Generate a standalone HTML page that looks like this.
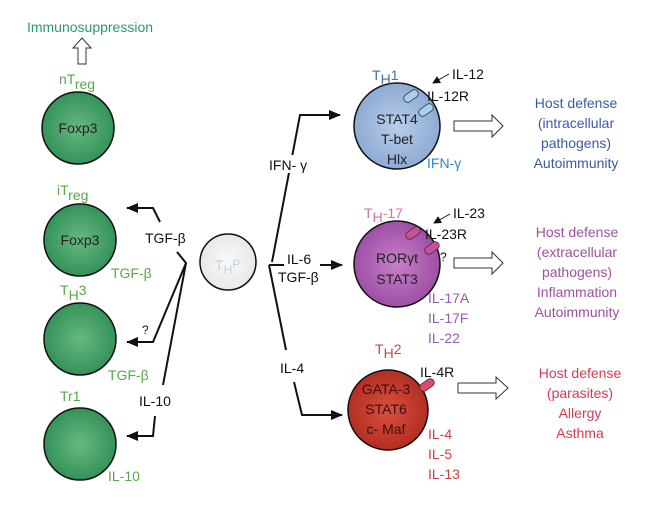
<!DOCTYPE html>
<html><head><meta charset="utf-8"><style>
html,body{margin:0;padding:0;background:#fff;}
svg{display:block;font-family:"Liberation Sans",sans-serif;}
</style></head><body>
<svg width="650" height="507" viewBox="0 0 650 507" xmlns="http://www.w3.org/2000/svg">
<defs>
<radialGradient id="g" cx="50%" cy="50%" r="55%"><stop offset="0" stop-color="#66b880"/><stop offset="1" stop-color="#2f8f55"/></radialGradient>
<radialGradient id="b" cx="50%" cy="50%" r="55%"><stop offset="0" stop-color="#b8cdea"/><stop offset="1" stop-color="#8aa6d2"/></radialGradient>
<radialGradient id="p" cx="50%" cy="50%" r="55%"><stop offset="0" stop-color="#c680c8"/><stop offset="1" stop-color="#9a4aa2"/></radialGradient>
<radialGradient id="r" cx="50%" cy="50%" r="55%"><stop offset="0" stop-color="#d8503e"/><stop offset="1" stop-color="#b02a20"/></radialGradient>
<radialGradient id="w" cx="50%" cy="50%" r="55%"><stop offset="0" stop-color="#fafafa"/><stop offset="1" stop-color="#e6e6e6"/></radialGradient>
<marker id="ah" markerWidth="8" markerHeight="8" refX="7" refY="4" orient="auto" markerUnits="userSpaceOnUse"><path d="M0,0 L8,4 L0,8 Z" fill="#111"/></marker>
<marker id="ah2" markerWidth="12" markerHeight="10" refX="11" refY="5" orient="auto" markerUnits="userSpaceOnUse"><path d="M0,0 L12,5 L0,10 Z" fill="#111"/></marker>
</defs>
<g font-size="14">
<text x="90" y="32" text-anchor="middle" fill="#2a9a70">Immunosuppression</text>
<path d="M78,64 L78,48 L73,48 L82,38 L91,48 L86,48 L86,64 Z" fill="#fff" stroke="#333" stroke-width="1"/>
<circle cx="78" cy="128" r="36" fill="url(#g)" stroke="#111" stroke-width="1.5"/>
<circle cx="80" cy="240" r="36" fill="url(#g)" stroke="#111" stroke-width="1.5"/>
<circle cx="80" cy="339" r="36" fill="url(#g)" stroke="#111" stroke-width="1.5"/>
<circle cx="80" cy="444" r="36" fill="url(#g)" stroke="#111" stroke-width="1.5"/>
<text x="78" y="133" text-anchor="middle" fill="#222">Foxp3</text>
<text x="80" y="245" text-anchor="middle" fill="#222">Foxp3</text>
<g fill="#5aa84a">
<text x="59" y="84">nT<tspan dy="5">reg</tspan></text>
<text x="57" y="195">iT<tspan dy="5">reg</tspan></text>
<text x="111" y="278">TGF-β</text>
<text x="60" y="295">T<tspan dy="5">H</tspan><tspan dy="-5">3</tspan></text>
<text x="108" y="380">TGF-β</text>
<text x="60" y="401">Tr1</text>
<text x="108" y="481">IL-10</text>
</g>
<g fill="none" stroke="#111" stroke-width="2">
<path d="M160,222 L153,208 L127,208" marker-end="url(#ah2)"/>
<path d="M177,252 L186,263 L153,342 L127,342" marker-end="url(#ah2)"/>
<path d="M186,263 L163,385"/>
<path d="M155,416 L153,436 L127,436" marker-end="url(#ah2)"/>
</g>
<text x="145" y="243" fill="#111">TGF-β</text>
<text x="142" y="334" fill="#111" font-size="12">?</text>
<text x="139" y="406" fill="#111">IL-10</text>
<circle cx="228" cy="262" r="28" fill="url(#w)" stroke="#111" stroke-width="1.5"/>
<text x="215" y="270" fill="#bcd6e6" font-size="14">T<tspan dy="4" font-size="12">H</tspan><tspan dy="-6" font-size="12">P</tspan></text>
<g fill="none" stroke="#111" stroke-width="2">
<path d="M272,262 L300,115 L340,115" marker-end="url(#ah2)"/>
<path d="M269,265 L284,265"/>
<path d="M320,265 L342,265" marker-end="url(#ah2)"/>
<path d="M269,265 L286,350"/>
<path d="M294,382 L302,415 L342,415" marker-end="url(#ah2)"/>
</g>
<rect x="265" y="155" width="45" height="18" fill="#fff"/>
<text x="269" y="170" fill="#111">IFN- γ</text>
<text x="287" y="264" fill="#111">IL-6</text>
<text x="278" y="282" fill="#111">TGF-β</text>
<text x="280" y="373" fill="#111">IL-4</text>
<circle cx="397" cy="126" r="43" fill="url(#b)" stroke="#111" stroke-width="1.5"/>
<rect x="403" y="92" width="16" height="8" rx="4" fill="#a8d0ee" stroke="#333" stroke-width="0.8" transform="rotate(-35 411 96)"/>
<rect x="418" y="106" width="16" height="8" rx="4" fill="#a8d0ee" stroke="#333" stroke-width="0.8" transform="rotate(-35 426 110)"/>
<path d="M449,74 L433,83" stroke="#111" stroke-width="1" marker-end="url(#ah)"/>
<text x="372" y="80" fill="#4a6aab">T<tspan dy="4">H</tspan><tspan dy="-4">1</tspan></text>
<text x="452" y="79" fill="#111">IL-12</text>
<text x="427" y="101" fill="#111">IL-12R</text>
<g fill="#222" text-anchor="middle"><text x="397" y="124">STAT4</text><text x="397" y="144">T-bet</text><text x="397" y="164">Hlx</text></g>
<text x="427" y="168" fill="#2a8ac8">IFN-γ</text>
<path d="M454,121 L492,121 L492,115 L503,126 L492,137 L492,131 L454,131 Z" fill="#fff" stroke="#333" stroke-width="1"/>
<g fill="#3a5aa8" text-anchor="middle"><text x="576" y="108">Host defense</text><text x="576" y="128">(intracellular</text><text x="576" y="148">pathogens)</text><text x="576" y="168">Autoimmunity</text></g>
<circle cx="397" cy="264" r="43" fill="url(#p)" stroke="#111" stroke-width="1.5"/>
<rect x="405" y="229" width="16" height="8" rx="4" fill="#c8509a" stroke="#333" stroke-width="0.8" transform="rotate(-35 413 233)"/>
<rect x="424" y="244" width="16" height="8" rx="4" fill="#c8509a" stroke="#333" stroke-width="0.8" transform="rotate(-35 432 248)"/>
<path d="M450,214 L434,223" stroke="#111" stroke-width="1" marker-end="url(#ah)"/>
<text x="364" y="218" fill="#d070a8">T<tspan dy="4">H</tspan><tspan dy="-4">-17</tspan></text>
<text x="453" y="218" fill="#111">IL-23</text>
<text x="425" y="239" fill="#111">IL-23R</text>
<text x="440" y="261" fill="#111" font-size="12">?</text>
<g fill="#222" text-anchor="middle"><text x="397" y="263">RORγt</text><text x="397" y="284">STAT3</text></g>
<g fill="#9a5ab0"><text x="428" y="303">IL-17A</text><text x="428" y="323">IL-17F</text><text x="428" y="343">IL-22</text></g>
<path d="M454,258 L492,258 L492,252 L503,263 L492,274 L492,268 L454,268 Z" fill="#fff" stroke="#333" stroke-width="1"/>
<g fill="#a050a0" text-anchor="middle"><text x="577" y="237">Host defense</text><text x="577" y="257">(extracellular</text><text x="577" y="277">pathogens)</text><text x="577" y="297">Inflammation</text><text x="577" y="317">Autoimmunity</text></g>
<circle cx="388" cy="410" r="40" fill="url(#r)" stroke="#111" stroke-width="1.5"/>
<rect x="419" y="381" width="16" height="8" rx="4" fill="#e04a6a" stroke="#333" stroke-width="0.8" transform="rotate(-35 427 385)"/>
<text x="375" y="354" fill="#d04040">T<tspan dy="4">H</tspan><tspan dy="-4">2</tspan></text>
<text x="420" y="377" fill="#111">IL-4R</text>
<g fill="#3a1010" text-anchor="middle"><text x="386" y="394">GATA-3</text><text x="386" y="414">STAT6</text><text x="386" y="434">c- Maf</text></g>
<g fill="#d04040"><text x="428" y="439">IL-4</text><text x="428" y="459">IL-5</text><text x="428" y="479">IL-13</text></g>
<path d="M458,383 L496,383 L496,377 L508,388 L496,399 L496,393 L458,393 Z" fill="#fff" stroke="#333" stroke-width="1"/>
<g fill="#d83a50" text-anchor="middle"><text x="580" y="378">Host defense</text><text x="580" y="398">(parasites)</text><text x="580" y="418">Allergy</text><text x="580" y="438">Asthma</text></g>
</g>
</svg>
</body></html>
